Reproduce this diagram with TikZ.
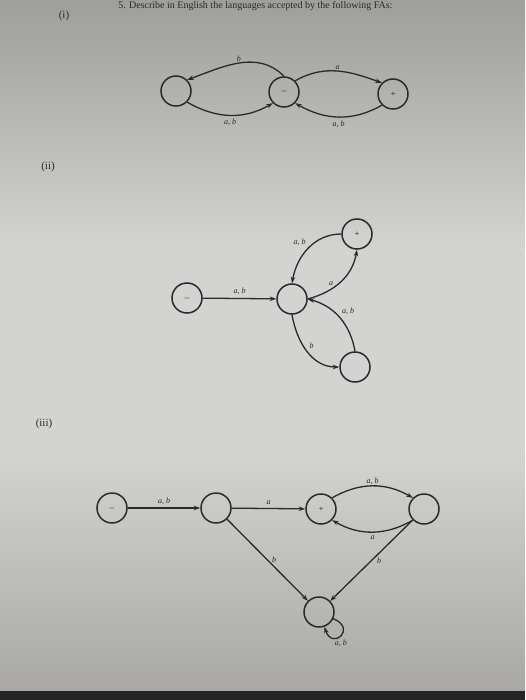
\documentclass[tikz,border=0pt]{standalone}
\usepackage{fontspec}
\setmainfont{Liberation Serif}
\usetikzlibrary{arrows.meta}
\definecolor{ink}{HTML}{2A2A2A}
\definecolor{bgtop}{HTML}{9E9E9B}
\definecolor{bgmid}{HTML}{D3D4D1}
\definecolor{bgbot}{HTML}{A9A8A4}
\begin{document}
\begin{tikzpicture}[x=1pt,y=-1pt,
  st/.style={circle,draw=ink,line width=1.5pt,minimum size=30pt,inner sep=0pt,font=\fontsize{8}{8}\selectfont},
  tr/.style={draw=ink,line width=1.3pt,-{Stealth[length=6.5pt,width=4.5pt]}},
  lbl/.style={font=\fontsize{8}{8}\selectfont\itshape,text=ink,inner sep=1pt},
  num/.style={font=\fontsize{11}{11}\selectfont,text=ink}]
\useasboundingbox (0,0) rectangle (525,700);
\shade[top color=bgtop,bottom color=bgmid] (0,0) rectangle (525,250);
\fill[bgmid] (0,250) rectangle (525,450);
\shade[top color=bgmid,bottom color=bgbot] (0,450) rectangle (525,691);
\fill[black!85] (0,691) rectangle (525,700);
\node[anchor=base east,font=\fontsize{10}{10}\selectfont,text=ink] (title) at (396,9) {5. Describe in English the languages accepted by the following FAs:};
% (i)
\node[num] (n1) at (64,16) {(i)};
\node[st] (a1) at (176,91) {};
\node[st] (a2) at (284,92) {$-$};
\node[st] (a3) at (393,94) {+};
\draw[tr] (a2.north) to[out=135,in=20] node[lbl,above] {b} (a1.north east);
\draw[tr] (a1.south east) to[out=-30,in=-150] node[lbl,below=2pt] {a, b} (a2.south west);
\draw[tr] (a2.north east) to[out=30,in=160] node[lbl,above] {a} (a3.north west);
\draw[tr] (a3.south west) to[out=-150,in=-30] node[lbl,below=2pt] {a, b} (a2.south east);
% (ii)
\node[num] (n2) at (48,167) {(ii)};
\node[st] (b1) at (187,298) {$-$};
\node[st] (b2) at (292,299) {};
\node[st] (b3) at (357,234) {+};
\node[st] (b4) at (355,367) {};
\draw[tr] (b1) -- node[lbl,above=2pt] {a, b} (b2);
\draw[tr] (b3.west) to[out=180,in=80] node[lbl,above left=1pt] {a, b} (b2.north);
\draw[tr] (b2.east) to[out=15,in=-100] node[lbl,left=3pt,pos=0.45] {a} (b3.south);
\draw[tr] (b2.south) to[out=-80,in=180] node[lbl,above right=1pt] {b} (b4.west);
\draw[tr] (b4.north) to[out=100,in=-15] node[lbl,above right=1pt] {a, b} (b2.east);
% (iii)
\node[num] (n3) at (44,424) {(iii)};
\node[st] (c1) at (112,508) {$-$};
\node[st] (c2) at (216,508) {};
\node[st] (c3) at (321,509) {+};
\node[st] (c4) at (424,509) {};
\node[st] (c5) at (319,612) {};
\draw[tr] (c1) -- node[lbl,above=2pt] {a, b} (c2);
\draw[tr] (c2) -- node[lbl,above=2pt] {a} (c3);
\draw[tr] (c3.north east) to[out=30,in=150] node[lbl,above] {a, b} (c4.north west);
\draw[tr] (c4.south west) to[out=-150,in=-30] node[lbl,below=2pt] {a} (c3.south east);
\draw[tr] (c2) -- node[lbl,right=3pt] {b} (c5);
\draw[tr] (c4) -- node[lbl,right=4pt] {b} (c5);
\draw[tr] (c5.-25) .. controls +(24,10) and +(8,24) .. node[lbl,below=3pt] {a, b} (c5.-70);
\end{tikzpicture}
\end{document}
